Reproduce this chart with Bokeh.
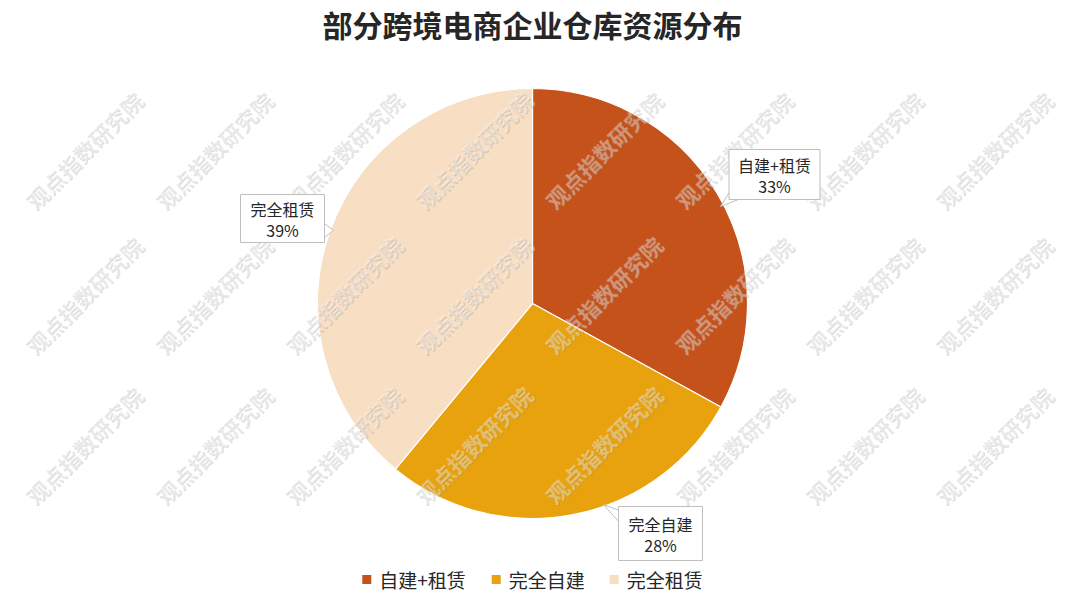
import math
from bokeh.plotting import figure
from bokeh.models import Range1d
from bokeh.core.properties import value
from bokeh.embed import file_html
from bokeh.resources import INLINE

# ---- data ----
title_text = "部分跨境电商企业仓库资源分布"
categories = ["自建+租赁", "完全自建", "完全租赁"]
shares = [33, 28, 39]
colors = ["#C5521A", "#E8A20E", "#F8DEC2"]
watermark = "观点指数研究院"

FONT = "Noto Sans CJK SC"
W, H = 1064, 592

# the figure sits at page offset (8, 8): data coordinates equal page pixels
p = figure(width=W, height=H, output_backend="svg", toolbar_location=None,
           x_range=Range1d(8, 8 + W), y_range=Range1d(-(8 + H), -8),
           min_border=0, outline_line_color=None)
p.axis.visible = False
p.grid.visible = False
p.background_fill_color = "white"
p.border_fill_color = "white"

def Y(y):
    return -y

cx, cy, r = 540, 311, 215

# ---- pie ----
total = float(sum(shares))
starts, ends = [], []
acc = 0.0
for v in shares:
    a0 = math.pi / 2 - acc / total * 2 * math.pi
    acc += v
    a1 = math.pi / 2 - acc / total * 2 * math.pi
    starts.append(a0)
    ends.append(a1)

p.wedge(x=[cx] * 3, y=[Y(cy)] * 3, radius=r, start_angle=starts, end_angle=ends,
        direction="clock", fill_color=colors, line_color="white", line_width=1.2)

# ---- watermarks ----
wm_x, wm_y = [], []
for row_y in (157, 302, 452):
    for i in range(8):
        wm_x.append(91 + 130 * i)
        wm_y.append(Y(row_y))
p.text(x=[x + 1 for x in wm_x], y=[y - 1 for y in wm_y], text=[watermark] * len(wm_x),
       angle=math.pi / 4, text_align="center", text_baseline="middle",
       text_font=value(FONT), text_font_style="bold", text_font_size="22px",
       text_color="#8a8a8a", text_alpha=0.28)
p.text(x=wm_x, y=wm_y, text=[watermark] * len(wm_x),
       angle=math.pi / 4, text_align="center", text_baseline="middle",
       text_font=value(FONT), text_font_style="bold", text_font_size="22px",
       text_color="white", text_alpha=0.35)

# ---- data labels (callout boxes) ----
label_layout = [
    dict(c=(782, 182), wh=(91, 50), tri=[(728, 214), (738, 198), (746, 207)]),
    dict(c=(668, 541), wh=(84, 54), tri=[(611, 512), (627, 518), (627, 530)]),
    dict(c=(290, 226), wh=(84, 48), tri=[(341, 238), (332, 231), (332, 245)]),
]
for k, lay in enumerate(label_layout):
    (bx, by), (bw, bh) = lay["c"], lay["wh"]
    tri = lay["tri"]
    p.patch(x=[t[0] for t in tri], y=[Y(t[1]) for t in tri],
            fill_color="white", line_color="#bfbfbf", line_width=1)
    p.rect(x=[bx], y=[Y(by)], width=bw, height=bh, fill_color="white",
           line_color="#bfbfbf", line_width=1)
    p.patch(x=[tri[1][0], tri[2][0], tri[2][0], tri[1][0]],
            y=[Y(tri[1][1]), Y(tri[2][1]), Y(tri[2][1]), Y(tri[1][1])],
            fill_color="white", line_color=None)
    p.text(x=[bx, bx], y=[Y(by - 10), Y(by + 11)],
           text=[categories[k], f"{shares[k]}%"],
           text_align="center", text_baseline="middle",
           text_font=value(FONT), text_font_size="16px", text_color="#262626")

# ---- title ----
p.text(x=[540], y=[Y(31)], text=[title_text], text_align="center", text_baseline="middle",
       text_font=value(FONT), text_font_style="bold", text_font_size="30px",
       text_color="#262626")

# ---- legend ----
leg_fs = 19
def text_w(s):
    return sum(0.6 * leg_fs if ord(ch) < 128 else leg_fs for ch in s)
sq, gap_sq, gap_item = 9, 8, 25
widths = [sq + gap_sq + text_w(c) for c in categories]
tot_w = sum(widths) + gap_item * (len(categories) - 1)
x0 = 540 - tot_w / 2
leg_y = 587
sq_x, tx_x = [], []
for wdt in widths:
    sq_x.append(x0 + sq / 2)
    tx_x.append(x0 + sq + gap_sq)
    x0 += wdt + gap_item
p.rect(x=sq_x, y=[Y(leg_y)] * 3, width=sq, height=sq, fill_color=colors, line_color=None)
p.text(x=tx_x, y=[Y(leg_y)] * 3, text=categories, text_align="left", text_baseline="middle",
       text_font=value(FONT), text_font_size=f"{leg_fs}px", text_color="#262626")

open("out.html", "w").write(file_html(p, INLINE))
